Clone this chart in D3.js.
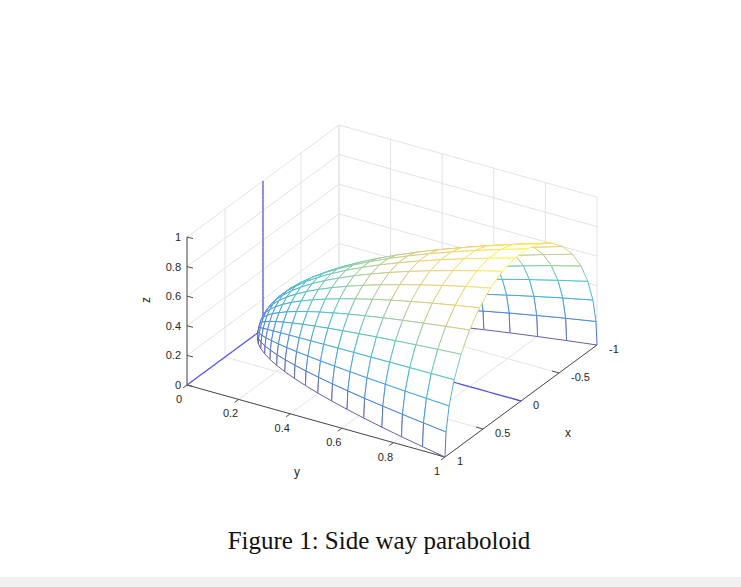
<!DOCTYPE html>
<html><head><meta charset="utf-8">
<script src="https://cdn.jsdelivr.net/npm/d3@7"></script>
<style>body{margin:0;background:#fff}</style>
</head><body>
<svg width="741" height="587"></svg>
<script>
const xTicks = [-1, -0.5, 0, 0.5, 1];
const yTicks = [0, 0.2, 0.4, 0.6, 0.8, 1];
const zTicks = [0, 0.2, 0.4, 0.6, 0.8, 1];
const xTickLabels = ['-1', '-0.5', '0', '0.5', '1'];
const yTickLabels = ['0', '0.2', '0.4', '0.6', '0.8', '1'];
const zTickLabels = ['0', '0.2', '0.4', '0.6', '0.8', '1'];
const rVals = d3.range(20).map((i) => i / 19);
const thVals = d3.range(20).map((i) => (Math.PI * i) / 19);
const caption = 'Figure 1: Side way paraboloid';

const svg = d3.select('svg');

// projected axis directions
const xScale = d3.scaleLinear().domain([-1, 1]).range([-1, 1]);
const yScale = d3.scaleLinear().domain([0, 1]).range([0, 1]);
const zScale = d3.scaleLinear().domain([0, 1]).range([0, 1]);
const O = [263, 329];
const ex = [-76, 56];
const ey = [258, 72];
const ez = [0, -148];
const proj = (x, y, z) => {
  const a = xScale(x), b = yScale(y), c = zScale(z);
  return [O[0] + a * ex[0] + b * ey[0] + c * ez[0], O[1] + a * ex[1] + b * ey[1] + c * ez[1]];
};
// toward-viewer direction (null vector of projection)
const dv = [ey[0] * ez[1] - ez[0] * ey[1], ez[0] * ex[1] - ex[0] * ez[1], ex[0] * ey[1] - ey[0] * ex[1]];
const sgn = dv[0] < 0 ? -1 : 1;
const depth = (p) => sgn * (p[0] * dv[0] + p[1] * dv[1] + p[2] * dv[2]);

const parula = d3.interpolateRgbBasis(['#352a87', '#0f5cdd', '#1481d6', '#06a4ca', '#2eb7a4', '#87bf77', '#d1bb59', '#fec832', '#f9fb0e']);
const color = (z) => d3.interpolateRgb(parula(Math.max(0, Math.min(1, z))), '#fff')(0.25);

const line = d3.line();
const grid = svg.append('g').attr('stroke', '#e3e3e3').attr('fill', 'none').attr('stroke-width', 1);
// back wall y=0
xTicks.forEach((x) => grid.append('path').attr('d', line([proj(x, 0, 0), proj(x, 0, 1)])));
zTicks.forEach((z) => grid.append('path').attr('d', line([proj(-1, 0, z), proj(1, 0, z)])));
// back wall x=-1
yTicks.forEach((y) => grid.append('path').attr('d', line([proj(-1, y, 0), proj(-1, y, 1)])));
zTicks.forEach((z) => grid.append('path').attr('d', line([proj(-1, 0, z), proj(-1, 1, z)])));
// floor
xTicks.forEach((x) => grid.append('path').attr('d', line([proj(x, 0, 0), proj(x, 1, 0)])));
yTicks.forEach((y) => grid.append('path').attr('d', line([proj(-1, y, 0), proj(1, y, 0)])));

// axes
const ax = svg.append('g').attr('stroke', '#4d4d4d').attr('fill', 'none');
ax.append('path').attr('d', line([proj(1, 0, 0), proj(1, 0, 1)]));
ax.append('path').attr('d', line([proj(1, 0, 0), proj(1, 1, 0)]));
ax.append('path').attr('d', line([proj(1, 1, 0), proj(-1, 1, 0)]));
const txt = svg.append('g').attr('font-family', 'Helvetica, Arial, sans-serif').attr('font-size', 11).attr('fill', '#262626');
zTicks.forEach((z, i) => {
  const p = proj(1, 0, z);
  ax.append('path').attr('d', line([p, [p[0] + 6, p[1] + 1.5]]));
  txt.append('text').attr('x', p[0] - 6).attr('y', p[1] + 4).attr('text-anchor', 'end').text(zTickLabels[i]);
});
yTicks.forEach((y, i) => {
  const p = proj(1, y, 0);
  ax.append('path').attr('d', line([p, [p[0] - 4, p[1] + 3]]));
  txt.append('text').attr('x', p[0] - 8).attr('y', p[1] + 18).attr('text-anchor', 'middle').text(yTickLabels[i]);
});
xTicks.forEach((x, i) => {
  const p = proj(x, 1, 0);
  ax.append('path').attr('d', line([p, [p[0] - 7, p[1] - 2]]));
  txt.append('text').attr('x', p[0] + 12).attr('y', p[1] + 8).attr('text-anchor', 'start').text(xTickLabels[i]);
});
txt.append('text').attr('x', 565).attr('y', 437).attr('font-size', 12).text('x');
txt.append('text').attr('x', 294).attr('y', 476).attr('font-size', 12).text('y');
txt.append('text').attr('transform', 'translate(150,300) rotate(-90)').attr('text-anchor', 'middle').attr('font-size', 12).text('z');

// scene items: surface quads + blue coordinate lines
const items = [];
for (let i = 0; i < rVals.length - 1; i++) {
  for (let j = 0; j < thVals.length - 1; j++) {
    const pts = [[i, j], [i + 1, j], [i + 1, j + 1], [i, j + 1]].map(([a, b]) => {
      const r = rVals[a], t = thVals[b];
      return [r * Math.cos(t), r * r, r * Math.sin(t)];
    });
    const c = [d3.mean(pts, (p) => p[0]), d3.mean(pts, (p) => p[1]), d3.mean(pts, (p) => p[2])];
    items.push({ type: 'quad', pts, d: depth(c) });
  }
}
const blueLines = [[[0, 0, 0], [1, 0, 0]], [[0, 0, 0], [0, 1, 0]], [[0, 0, 0], [0, 0, 1]]];
blueLines.forEach(([a, b]) => {
  const n = 40;
  for (let k = 0; k < n; k++) {
    const p = d3.interpolateArray(a, b)(k / n);
    const q = d3.interpolateArray(a, b)((k + 1) / n);
    items.push({ type: 'seg', pts: [p, q], d: depth(p.map((v, m) => (v + q[m]) / 2)) });
  }
});
items.sort((a, b) => a.d - b.d);

const scene = svg.append('g').attr('stroke-linejoin', 'round');
items.forEach((it) => {
  if (it.type === 'seg') {
    scene.append('path').attr('d', line(it.pts.map((p) => proj(...p))))
      .attr('stroke', '#4a4aff').attr('stroke-width', 1.2).attr('fill', 'none');
  } else {
    const sp = it.pts.map((p) => proj(...p));
    scene.append('path').attr('d', line(sp) + 'Z').attr('fill', '#fff').attr('stroke', 'none');
    for (let k = 0; k < 4; k++) {
      const p = it.pts[k], q = it.pts[(k + 1) % 4];
      scene.append('path').attr('d', line([sp[k], sp[(k + 1) % 4]]))
        .attr('stroke', color((p[2] + q[2]) / 2)).attr('stroke-width', 1).attr('fill', 'none');
    }
  }
});

svg.append('text').attr('x', 379).attr('y', 549).attr('text-anchor', 'middle')
  .attr('font-family', '"Liberation Serif", "DejaVu Serif", serif').attr('font-size', 25).attr('fill', '#111')
  .text(caption);
svg.append('rect').attr('x', 0).attr('y', 577).attr('width', 741).attr('height', 10).attr('fill', '#f0f0f0');
</script>
</body></html>
